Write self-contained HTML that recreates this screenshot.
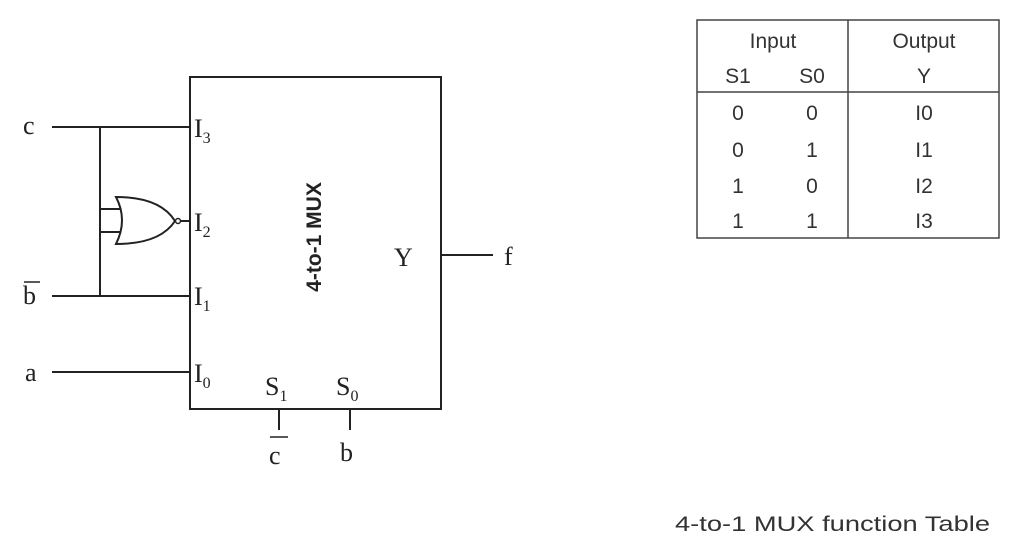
<!DOCTYPE html>
<html><head><meta charset="utf-8"><style>
html,body{margin:0;padding:0;background:#fff;}
svg{display:block;}
</style></head><body>
<svg width="1024" height="554" viewBox="0 0 1024 554" xmlns="http://www.w3.org/2000/svg">
<g stroke="#222" stroke-width="2" fill="none">
<rect x="190" y="77" width="251" height="332"/>
<line x1="52" y1="127" x2="190" y2="127"/>
<line x1="52" y1="296" x2="190" y2="296"/>
<line x1="52" y1="372" x2="190" y2="372"/>
<line x1="100" y1="127" x2="100" y2="296"/>
<line x1="100" y1="209" x2="121" y2="209"/>
<line x1="100" y1="232" x2="121" y2="232"/>
<path d="M116,197 Q128,220 116,244 Q160,244 175,221 Q160,197 116,197 Z" stroke-width="2" fill="#fff"/>
<circle cx="178" cy="221" r="2.5" stroke-width="1.5"/>
<line x1="181" y1="221" x2="190" y2="221"/>
<line x1="441" y1="255" x2="493" y2="255"/>
<line x1="279" y1="409" x2="279" y2="430"/>
<line x1="350" y1="409" x2="350" y2="430"/>
<line x1="270" y1="437" x2="288" y2="437" stroke-width="1.5"/>
<line x1="24" y1="282" x2="40" y2="282" stroke-width="1.5"/>
</g>
<g font-family="Liberation Serif, serif" font-size="26" fill="#222">
<text x="23" y="134">c</text>
<text x="23" y="304">b</text>
<text x="25" y="381">a</text>
<text x="504" y="265">f</text>
<text x="394" y="266">Y</text>
<text x="269" y="464">c</text>
<text x="340" y="461">b</text>
<text x="194" y="137">I<tspan font-size="16" dy="6">3</tspan></text>
<text x="194" y="231">I<tspan font-size="16" dy="6">2</tspan></text>
<text x="194" y="305">I<tspan font-size="16" dy="6">1</tspan></text>
<text x="194" y="382">I<tspan font-size="16" dy="6">0</tspan></text>
<text x="265" y="395">S<tspan font-size="16" dy="6">1</tspan></text>
<text x="336" y="395">S<tspan font-size="16" dy="6">0</tspan></text>
</g>
<text x="0" y="0" transform="translate(321,237) rotate(-90)" text-anchor="middle" font-family="Liberation Sans, sans-serif" font-weight="bold" font-size="21" fill="#222">4-to-1 MUX</text>
<g stroke="#444" stroke-width="1.5" fill="none">
<rect x="697" y="20" width="302" height="218"/>
<line x1="848" y1="20" x2="848" y2="238"/>
<line x1="697" y1="92" x2="999" y2="92"/>
</g>
<g font-family="Liberation Sans, sans-serif" font-size="21" fill="#333" text-anchor="middle">
<text x="773" y="48">Input</text>
<text x="924" y="48">Output</text>
<text x="738" y="83">S1</text>
<text x="812" y="83">S0</text>
<text x="924" y="83">Y</text>
<text x="738" y="120">0</text><text x="812" y="120">0</text><text x="924" y="120">I0</text>
<text x="738" y="157">0</text><text x="812" y="157">1</text><text x="924" y="157">I1</text>
<text x="738" y="193">1</text><text x="812" y="193">0</text><text x="924" y="193">I2</text>
<text x="738" y="228">1</text><text x="812" y="228">1</text><text x="924" y="228">I3</text>
</g>
<text x="675" y="531" textLength="315" lengthAdjust="spacingAndGlyphs" font-family="Liberation Sans, sans-serif" font-size="21" fill="#333">4-to-1 MUX function Table</text>
</svg>
</body></html>
